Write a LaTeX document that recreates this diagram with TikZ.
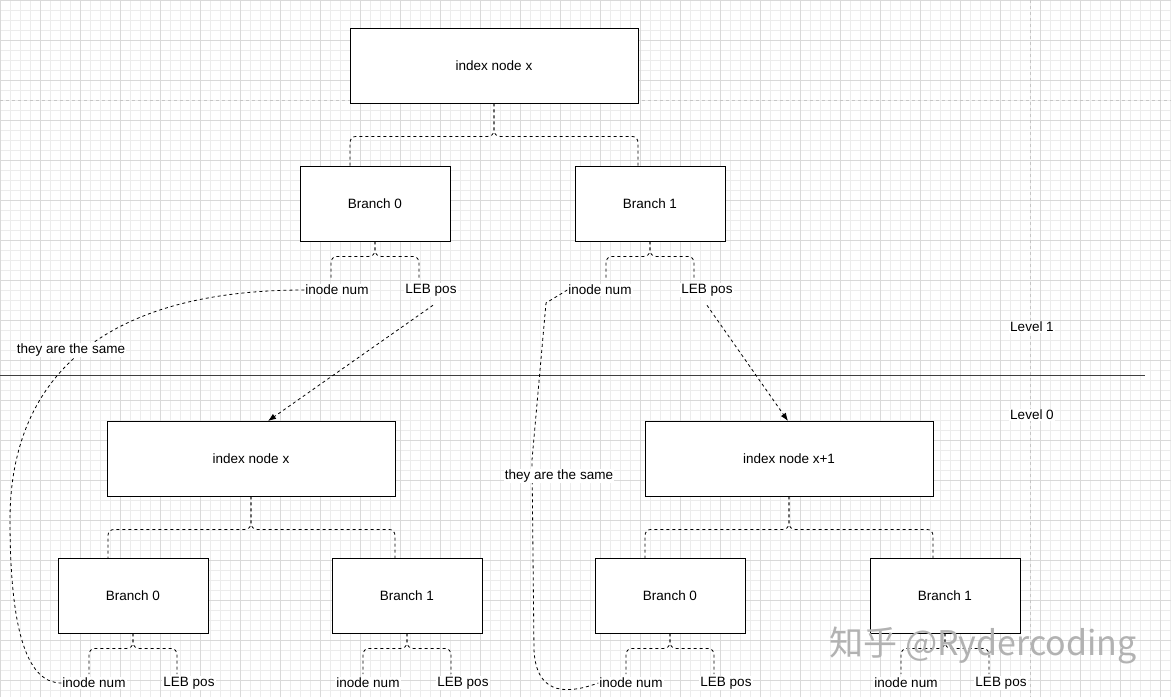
\documentclass[tikz,border=0pt]{standalone}
\usepackage{fontspec}
\setmainfont{Liberation Sans}
\newfontfamily\cjk{Noto Sans CJK SC}
\usetikzlibrary{arrows.meta}
\tikzset{
  box/.style={draw,thick,fill=white,minimum width=#1,minimum height=75pt,inner sep=0pt},
  box/.default=150pt,
  lbl/.style={fill=white,inner sep=1pt,font=\fontsize{13.5}{13.5}\selectfont},
  link/.style={dashed,thick,rounded corners=6pt},
}
\begin{document}
\begin{tikzpicture}[x=1pt,y=-1pt,>={Latex[length=8pt]},font=\fontsize{13.5}{13.5}\selectfont]
  \useasboundingbox (0,0) rectangle (1171,697);
  \fill[white] (0,0) rectangle (1171,697);
  % grid
  \draw[gray!15,step=10pt] (0,0) grid (1171,697);
  \draw[gray!30,step=40pt] (0,0) grid (1171,697);
  \draw[gray!45,dashed] (0,100) -- (1171,100);
  \draw[gray!45,dashed] (1030,0) -- (1030,697);

  % level 1
  \node[box=288pt] (top) at (494,65.5) {index node x};
  \node[box] (tb0) at (375,203.5) {Branch 0};
  \node[box] (tb1) at (650,203.5) {Branch 1};
  \node[lbl] (ti0) at (337,290) {inode num};
  \node[lbl] (tl0) at (431,290) {LEB pos};
  \node[lbl] (ti1) at (600,290) {inode num};
  \node[lbl] (tl1) at (707,290) {LEB pos};

  \draw[link] (top.south) -- ++(0,33) -| (350,166);
  \draw[link] (top.south) -- ++(0,33) -| (638,166);
  \draw[link] (tb0.south) -- ++(0,15) -| (331,280);
  \draw[link] (tb0.south) -- ++(0,15) -| (419,280);
  \draw[link] (tb1.south) -- ++(0,15) -| (606,280);
  \draw[link] (tb1.south) -- ++(0,15) -| (694,280);

  \draw[thick,black!75] (0,375) -- (1145,375);
  \node[lbl] (lv1) at (1032,327) {Level 1};
  \node[lbl] (lv0) at (1032,415) {Level 0};

  % level 0
  \node[box=288pt] (lx) at (251,458.5) {index node x};
  \node[box=288pt] (rx) at (789,458.5) {index node x+1};
  \foreach \p/\c/\n in {lx0/133/0,lx1/407/1,rx0/670/0,rx1/945/1}{
    \node[box] (\p) at (\c,595.5) {Branch \n};
    \node[lbl] (\p i) at (\c-39,683) {inode num};
    \node[lbl] (\p l) at (\c+56,683) {LEB pos};
    \draw[link] (\p.south) -- ++(0,15) -| (\c-44,674);
    \draw[link] (\p.south) -- ++(0,15) -| (\c+44,674);
  }
  \draw[link] (lx.south) -- ++(0,33) -| (108,558);
  \draw[link] (lx.south) -- ++(0,33) -| (395,558);
  \draw[link] (rx.south) -- ++(0,33) -| (645,558);
  \draw[link] (rx.south) -- ++(0,33) -| (933,558);

  % references
  \draw[dashed,thick,->] (tl0.south) ++(2,8) -- (268,421);
  \draw[dashed,thick,->] (tl1.south) ++(0,8) -- (788,421);
  \draw[dashed,thick] (ti0.west) .. controls (100,290) and (10,380) .. (10,520)
    .. controls (10,640) and (30,683) .. (lx0i.west);
  \draw[dashed,thick] (ti1.west) -- (546,303) -- (532,460) -- (534,650)
    .. controls (536,690) and (560,697) .. (rx0i.west);
  \node[lbl] (same0) at (71,350) {they are the same};
  \node[lbl] (same1) at (559,476) {they are the same};

  \node[text=gray!60,font=\cjk\fontsize{34}{34}\selectfont] (wm) at (983,645) {知乎 @Rydercoding};
\end{tikzpicture}
\end{document}
